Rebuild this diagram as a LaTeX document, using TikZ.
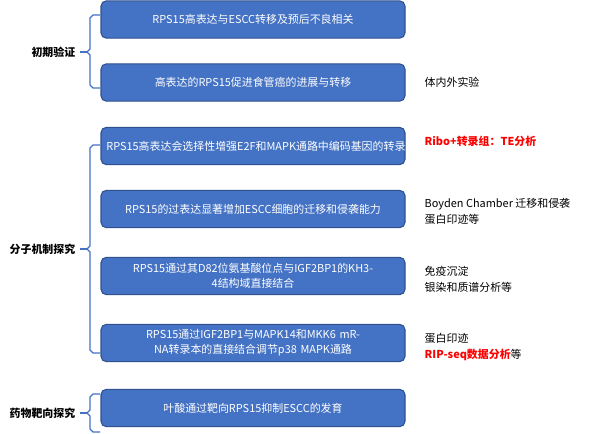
\documentclass[tikz,border=0pt]{standalone}
\usepackage{fontspec}
\setmainfont{Noto Sans CJK SC}
\definecolor{boxfill}{HTML}{4472C4}
\definecolor{boxline}{HTML}{2F528F}
\definecolor{redt}{HTML}{FF0000}
\begin{document}
\begin{tikzpicture}[x=0.75pt,y=-0.75pt,
  bx/.style={draw=boxline,fill=boxfill,rounded corners=4pt,line width=0.8pt,minimum width=228pt,minimum height=28pt,text width=220pt,align=center,text=white,font=\fontsize{8.2}{11}\selectfont,inner sep=1pt},
  brk/.style={draw=boxfill,line width=0.9pt},
  grp/.style={font=\fontsize{8.2}{10}\selectfont\bfseries,anchor=east},
  note/.style={font=\fontsize{8.2}{12}\selectfont,anchor=west,align=left}]
\useasboundingbox (0,0) rectangle (600,433);
\node[bx] (b1) at (253,19.5) {RPS15高表达与ESCC转移及预后不良相关};
\node[bx] (b2) at (253,82.5) {高表达的RPS15促进食管癌的进展与转移};
\node[bx] (b3) at (253,146) {RPS15高表达会选择性增强E2F和MAPK通路中编码基因的转录本翻译};
\node[bx] (b4) at (253,209) {RPS15的过表达显著增加ESCC细胞的迁移和侵袭能力};
\node[bx] (b5) at (253,276) {RPS15通过其D82位氨基酸位点与IGF2BP1的KH3-4结构域直接结合};
\node[bx] (b6) at (253,343) {RPS15通过IGF2BP1与MAPK14和MKK6 mRNA转录本的直接结合调节p38 MAPK通路};
\node[bx] (b7) at (253,408) {叶酸通过靶向RPS15抑制ESCC的发育};
% brackets
\node[grp] (g1) at (80,52) {初期验证};
\draw[brk] (100,15) -- (93,15) -- (90,18) -- (90,49) -- (87,52) -- (90,55) -- (90,85) -- (93,88) -- (100,88);
\draw[brk] (g1.east) -- (87,52);
\node[grp] (g2) at (80,249) {分子机制探究};
\draw[brk] (100,145) -- (93,145) -- (90,148) -- (90,246) -- (87,249) -- (90,252) -- (90,350) -- (93,353) -- (100,353);
\draw[brk] (g2.east) -- (87,249);
\node[grp] (g3) at (80,413) {药物靶向探究};
\draw[brk] (100,394) -- (93,394) -- (90,397) -- (90,410) -- (87,413) -- (90,416) -- (90,429) -- (93,432) -- (100,432);
\draw[brk] (g3.east) -- (87,413);
% notes
\node[note] (n1) at (420,82) {体内外实验};
\node[note,text=redt,font=\fontsize{8.2}{12}\selectfont\bfseries] (n2) at (420,141) {Ribo+转录组：TE分析};
\node[note] (n3) at (420,211) {Boyden Chamber 迁移和侵袭\\蛋白印迹等};
\node[note] (n4) at (420,279) {免疫沉淀\\银染和质谱分析等};
\node[note] (n5) at (420,347) {蛋白印迹\\{\color{redt}\bfseries RIP-seq数据分析}等};
\end{tikzpicture}
\end{document}
